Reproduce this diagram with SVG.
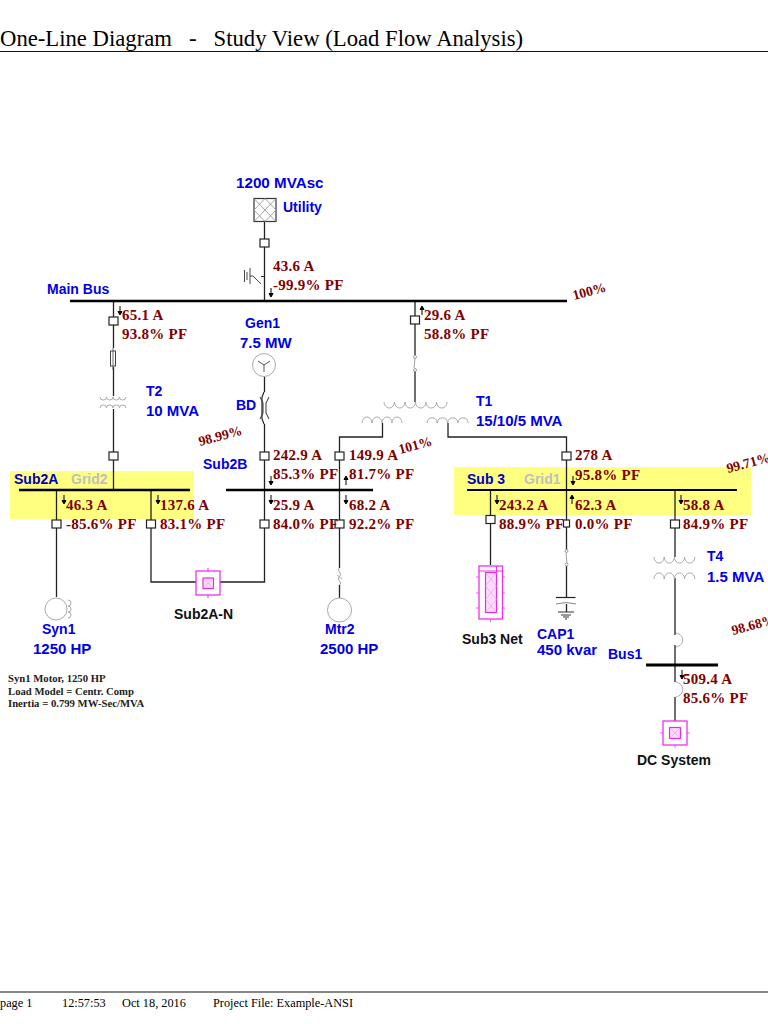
<svg xmlns="http://www.w3.org/2000/svg" width="768" height="1024" viewBox="0 0 768 1024">
<style>
text{white-space:pre}
.t{font-family:"Liberation Serif","Times New Roman",serif;fill:#000}
.title{font-size:22.700px}
.foot{font-size:12.300px}
.note{font-size:10.700px;font-weight:bold;fill:#222}
.v{font-family:"Liberation Serif",serif;font-weight:bold;font-size:15px;letter-spacing:.25px;fill:#800000}
.p{font-family:"Liberation Serif",serif;font-weight:bold;font-size:13.700px;fill:#800000}
.b{font-family:"Liberation Sans",Arial,sans-serif;font-weight:bold;font-size:14px;fill:#0000e6}
.b2{font-size:15px}
.g{font-family:"Liberation Sans",Arial,sans-serif;font-weight:bold;font-size:14px;fill:#c0c0c0}
.k{font-family:"Liberation Sans",Arial,sans-serif;font-weight:bold;font-size:14px;fill:#111}
.w{fill:none;stroke:#222;stroke-width:1.3}
.bus{stroke:#000;stroke-width:2.4;fill:none}
.brk{fill:#fff;stroke:#222;stroke-width:1.2}
.coil{fill:none;stroke:#aaa;stroke-width:1}
.thin{fill:none;stroke:#999;stroke-width:.9}
.sw{fill:#fff;stroke:#888;stroke-width:.8}
.pk{fill:#fff;stroke:#f030f0;stroke-width:1.3}
.pi{fill:#fbdcfb;stroke:#e030e0;stroke-width:1.2}
.ht{stroke:#f090f0;stroke-width:.6;fill:none}
.ax{fill:#000;stroke:#000;stroke-width:1}
</style>
<defs>
<path id="dn" class="ax" d="M0-9V-3M-2-3.500H2L0 0Z"/>
<path id="up" class="ax" d="M0 0V-6M-2-5.500H2L0-9Z"/>
<rect id="bk" class="brk" x="-4.500" y="-4" width="9" height="8"/>
</defs>
<g id="frame">
<text class="t title" x="0" y="46">One-Line Diagram   -   Study View (Load Flow Analysis)</text>
<path d="M0 51.500H768M0 992H768" stroke="#111" stroke-width="1" fill="none"/>
<text class="t foot" x="0" y="1007">page 1</text>
<text class="t foot" x="62" y="1007">12:57:53</text>
<text class="t foot" x="122" y="1007">Oct 18, 2016</text>
<text class="t foot" x="213" y="1007">Project File: Example-ANSI</text>
</g>
<g id="grids">
<rect x="10" y="471" width="184" height="48" fill="#ffff80"/>
<rect x="454" y="467" width="297" height="48" fill="#ffff80"/>
<text class="g" x="71" y="484">Grid2</text>
<text class="g" x="524" y="484">Grid1</text>
</g>
<g id="connectors">
<path class="w" d="M264.500 221V301"/>
<path class="w" d="M113.500 301V348M113.500 367V396M113.500 409V490"/>
<path class="w" d="M415 301V355M415 371V402"/>
<path class="w" d="M264.500 376V392M264.500 424V582H220M196 582H151V490"/>
<path class="w" d="M382.500 423V437H339.500V568M339.500 585V598"/>
<path class="w" d="M448 423V437H566.500V551M566.500 565V597M566.500 604V612"/>
<path class="w" d="M56.500 490V597"/>
<path class="w" d="M490.500 490V565"/>
<path class="w" d="M675 490V557M675 578V635M675 645V682M675 697V721"/>
</g>
<g id="utility">
<rect x="254" y="198.500" width="22" height="23" fill="#fff" stroke="#333" stroke-width="1.2"/>
<path class="thin" d="M254 198.500L276 221.500M276 198.500L254 221.500M254 210L265 198.500L276 210L265 221.500Z"/>
<text class="b b2" x="236" y="188" style="font-size:15.200px">1200 MVAsc</text>
<text class="b" x="283" y="212">Utility</text>
<use href="#bk" x="264.500" y="243"/>
</g>
<g id="grounding-switch">
<path d="M244.500 270V282M247 272V280M250 268V284M250 276H253L261 284" fill="none" stroke="#333" stroke-width=".9"/>
<path d="M261 276.500H264" stroke="#333" stroke-width="1"/>
</g>
<g id="main-bus">
<path class="bus" d="M70 301H567"/>
<text class="b" x="47" y="294">Main Bus</text>
<text class="p" transform="translate(574 300) rotate(-15)">100%</text>
</g>
<g id="main-flows">
<use href="#dn" x="271" y="297"/>
<text class="v" x="273" y="271">43.6 A</text>
<text class="v" x="273" y="290">-99.9% PF</text>
<use href="#dn" x="120" y="315"/>
<use href="#bk" x="113.500" y="321"/>
<text class="v" x="122" y="320">65.1 A</text>
<text class="v" x="122" y="339">93.8% PF</text>
<use href="#up" x="422" y="315"/>
<use href="#bk" x="415" y="320"/>
<text class="v" x="424" y="320">29.6 A</text>
<text class="v" x="424" y="339">58.8% PF</text>
</g>
<g id="fuse">
<rect x="110.500" y="351" width="5" height="15" fill="#fff" stroke="#444" stroke-width="1"/>
<path d="M113 348V370" stroke="#444" stroke-width=".8"/>
</g>
<g id="t2">
<path class="coil" d="M100 397a3.200 3 0 0 0 6.500 0a3.200 3 0 0 0 6.500 0a3.200 3 0 0 0 6.500 0a3.200 3 0 0 0 6.500 0"/>
<path class="coil" d="M100 408a3.200 3 0 0 1 6.500 0a3.200 3 0 0 1 6.500 0a3.200 3 0 0 1 6.500 0a3.200 3 0 0 1 6.500 0"/>
<text class="b" x="146" y="396">T2</text>
<text class="b b2" x="146" y="416">10 MVA</text>
</g>
<g id="gen1">
<circle cx="264" cy="365" r="11.500" fill="#fff" stroke="#aaa" stroke-width="1"/>
<path d="M264 365V372M264 365L258 361M264 365L270 361" stroke="#555" stroke-width="1" fill="none"/>
<text class="b" x="245" y="328">Gen1</text>
<text class="b b2" x="240" y="348">7.5 MW</text>
</g>
<g id="bd">
<path d="M264 392L262 397V419L264 424" fill="none" stroke="#222" stroke-width="1.2"/>
<path d="M260 397L263 403V413L260 419M269 397L266 403V413L269 419" fill="none" stroke="#333" stroke-width="1"/>
<text class="b" x="236" y="410">BD</text>
</g>
<g id="t1">
<path class="coil" d="M384 402a5.200 6 0 0 0 10.500 0a5.200 6 0 0 0 10.500 0a5.200 6 0 0 0 10.500 0a5.200 6 0 0 0 10.500 0a5.200 6 0 0 0 10.500 0a5.200 6 0 0 0 10.500 0"/>
<path class="coil" d="M362 423a5 6 0 0 1 10 0a5 6 0 0 1 10 0a5 6 0 0 1 10 0a5 6 0 0 1 10 0"/>
<path class="coil" d="M427 423a5.200 6 0 0 1 10.300 0a5.200 6 0 0 1 10.300 0a5.200 6 0 0 1 10.300 0a5.200 6 0 0 1 10.300 0"/>
<text class="b" x="476" y="406">T1</text>
<text class="b b2" x="476" y="426">15/10/5 MVA</text>
</g>
<g id="t1-switch">
<path d="M415 358L414 368" stroke="#888" stroke-width=".8"/>
<circle class="sw" cx="415" cy="357" r="1.500"/>
<circle class="sw" cx="415" cy="370" r="1.500"/>
</g>
<g id="sub2a">
<path class="bus" d="M19 490H190"/>
<text class="b" x="14" y="484" style="fill:#0000c0">Sub2A</text>
<use href="#bk" x="113.500" y="456"/>
<use href="#dn" x="64" y="504"/>
<use href="#bk" x="56.500" y="524"/>
<text class="v" x="66" y="510">46.3 A</text>
<text class="v" x="66" y="529">-85.6% PF</text>
<use href="#dn" x="158" y="504"/>
<use href="#bk" x="151" y="524"/>
<text class="v" x="160" y="510">137.6 A</text>
<text class="v" x="160" y="529">83.1% PF</text>
<text class="p" transform="translate(200 446) rotate(-15)">98.99%</text>
</g>
<g id="sub2b">
<path class="bus" d="M226 490H373"/>
<text class="b" x="203" y="469">Sub2B</text>
<use href="#bk" x="264.500" y="456"/>
<use href="#bk" x="339.500" y="456"/>
<use href="#dn" x="271" y="485"/>
<use href="#up" x="346" y="485"/>
<use href="#dn" x="271" y="504"/>
<use href="#dn" x="346" y="504"/>
<use href="#bk" x="264.500" y="524"/>
<use href="#bk" x="339.500" y="524"/>
<text class="v" x="273" y="460">242.9 A</text>
<text class="v" x="273" y="479">85.3% PF</text>
<text class="v" x="349" y="460">149.9 A</text>
<text class="v" x="349" y="479">81.7% PF</text>
<text class="p" transform="translate(400 454) rotate(-15)">101%</text>
<text class="v" x="273" y="510">25.9 A</text>
<text class="v" x="273" y="529">84.0% PF</text>
<text class="v" x="349" y="510">68.2 A</text>
<text class="v" x="349" y="529">92.2% PF</text>
</g>
<g id="syn1">
<circle cx="56" cy="609" r="11" fill="#fff" stroke="#aaa" stroke-width="1"/>
<path class="coil" d="M68 600a3 3 0 0 1 0 6a3 3 0 0 1 0 6a3 3 0 0 1 0 6"/>
<text class="b" x="42" y="634">Syn1</text>
<text class="b b2" x="33" y="654">1250 HP</text>
</g>
<g id="sub2a-n">
<rect class="pk" x="196" y="571" width="24" height="24"/>
<rect class="pi" x="203" y="578" width="10.500" height="10.500"/>
<path class="ht" d="M203 578L213.500 588.500M213.500 578L203 588.500"/>
<path d="M208 568V571M208 595V598" stroke="#f030f0" stroke-width="1"/>
<text class="k" x="174" y="619">Sub2A-N</text>
</g>
<g id="mtr2">
<path d="M339.500 568C336 571 343 573 339.500 576.500C336 580 343 582 339.500 585" fill="none" stroke="#999" stroke-width=".9"/>
<path d="M337 575L342 579" stroke="#999" stroke-width=".8"/>
<circle cx="339.500" cy="610" r="12" fill="#fff" stroke="#aaa" stroke-width="1"/>
<text class="b" x="325" y="634">Mtr2</text>
<text class="b b2" x="320" y="654">2500 HP</text>
</g>
<g id="sub3">
<path class="bus" d="M467 490H737" style="stroke-width:2"/>
<text class="b" x="467" y="484" style="fill:#0000c0">Sub 3</text>
<use href="#bk" x="566.500" y="456"/>
<use href="#dn" x="573" y="485"/>
<use href="#dn" x="497" y="504"/>
<use href="#up" x="572" y="504"/>
<use href="#dn" x="681" y="504"/>
<use href="#bk" x="490.500" y="519.500"/>
<rect class="brk" x="563.500" y="520" width="6" height="7"/>
<use href="#bk" x="675" y="524"/>
<text class="v" x="575" y="460">278 A</text>
<text class="v" x="575" y="480">95.8% PF</text>
<text class="v" x="499" y="510">243.2 A</text>
<text class="v" x="499" y="529">88.9% PF</text>
<text class="v" x="575" y="510">62.3 A</text>
<text class="v" x="575" y="529">0.0% PF</text>
<text class="v" x="683" y="510">58.8 A</text>
<text class="v" x="683" y="529">84.9% PF</text>
<text class="p" transform="translate(728 473) rotate(-15)">99.71%</text>
</g>
<g id="sub3-net">
<rect class="pk" x="479" y="566" width="23.500" height="53"/>
<path d="M479 571H502.500M496.500 566V612" stroke="#f030f0" stroke-width="1" fill="none"/>
<rect class="pi" x="485.500" y="572.500" width="11" height="40"/>
<path class="ht" d="M485.500 572.500L496.500 586L485.500 599.500L496.500 612.500M496.500 572.500L485.500 586L496.500 599.500L485.500 612.500"/>
<path d="M476 577H479M476 593H479M476 608H479M502.500 577H505M502.500 593H505M502.500 608H505M490.500 619V622" stroke="#f030f0" stroke-width=".8"/>
<text class="k" x="462" y="644">Sub3 Net</text>
</g>
<g id="cap1">
<path d="M566 553L567 564" stroke="#888" stroke-width=".8"/>
<circle class="sw" cx="566.500" cy="551" r="1.500"/>
<circle class="sw" cx="566.500" cy="564.500" r="1.500"/>
<path d="M556 597.500H575.500" stroke="#222" stroke-width="1.200"/>
<path d="M556 604Q566 601 576 604" fill="none" stroke="#888" stroke-width="1"/>
<path d="M558 612H574M561 615H571M563 617H569M565 619H567" stroke="#333" stroke-width="1"/>
<text class="b" x="537" y="639">CAP1</text>
<text class="b b2" x="537" y="655">450 kvar</text>
</g>
<g id="t4">
<path class="coil" d="M654 557a5 6 0 0 0 10.200 0a5 6 0 0 0 10.200 0a5 6 0 0 0 10.200 0a5 6 0 0 0 10.200 0"/>
<path class="coil" d="M654 579a5 6 0 0 1 10.200 0a5 6 0 0 1 10.200 0a5 6 0 0 1 10.200 0a5 6 0 0 1 10.200 0"/>
<text class="b" x="707" y="561">T4</text>
<text class="b b2" x="707" y="582">1.5 MVA</text>
<text class="p" transform="translate(733 635) rotate(-15)">98.68%</text>
<path d="M676 633C685 635 685 645 676 647" fill="none" stroke="#aaa" stroke-width="1"/>
</g>
<g id="bus1">
<path class="bus" d="M646 665H718" style="stroke-width:3"/>
<text class="b" x="608" y="659">Bus1</text>
<use href="#dn" x="682" y="679"/>
<text class="v" x="683" y="684">509.4 A</text>
<text class="v" x="683" y="703">85.6% PF</text>
<path d="M676 682C685 684 685 695 676 697" fill="none" stroke="#aaa" stroke-width="1"/>
</g>
<g id="dc-system">
<rect class="pk" x="663" y="721" width="24" height="24"/>
<rect class="pi" x="669.500" y="727.500" width="11" height="11"/>
<path class="ht" d="M669.500 727.500L680.500 738.500M680.500 727.500L669.500 738.500"/>
<path d="M675 745V748M660 733H663M687 733H690" stroke="#f030f0" stroke-width=".8"/>
<text class="k" x="637" y="765">DC System</text>
</g>
<g id="note">
<text class="t note" x="8" y="682">Syn1 Motor, 1250 HP</text>
<text class="t note" x="8" y="695">Load Model = Centr. Comp</text>
<text class="t note" x="8" y="707">Inertia = 0.799 MW-Sec/MVA</text>
</g>
</svg>
